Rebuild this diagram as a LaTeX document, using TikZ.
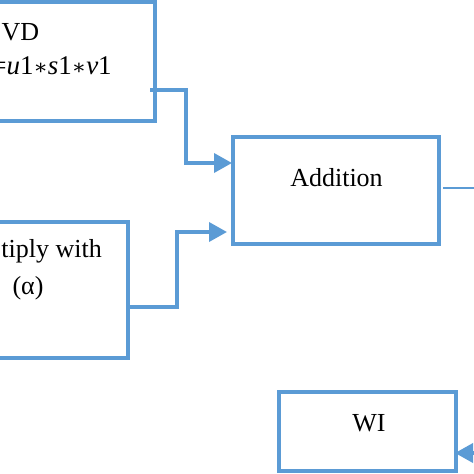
\documentclass[tikz,border=0pt]{standalone}
\usepackage{fontspec}
\setmainfont{Liberation Serif}
\newfontfamily\starfont{DejaVu Serif}
\usetikzlibrary{arrows.meta}
\definecolor{lineblue}{RGB}{91,155,213}
\tikzset{
  box/.style={draw=lineblue, line width=3.8pt, rectangle, inner sep=0pt, outer sep=0pt, anchor=north west},
  conn/.style={draw=lineblue, line width=3.6pt, -{Triangle[length=18pt,width=19pt]}},
  thinconn/.style={draw=lineblue, line width=2.6pt},
  lbl/.style={font=\fontsize{26}{30}\selectfont, inner sep=0pt, text=black}
}
\newcommand{\mstar}{{\starfont\fontsize{21}{26}\selectfont ∗}}
\begin{document}
\begin{tikzpicture}[x=1pt,y=-1pt]
\useasboundingbox (0,0) rectangle (474,474);
\fill[white] (0,0) rectangle (474,474);
\clip (0,0) rectangle (474,474);
% boxes
\node[box, minimum width=175pt, minimum height=119pt] (svd) at (-20,2) {};
\node[box, minimum width=206pt, minimum height=107pt] (add) at (233,137) {};
\node[box, minimum width=148pt, minimum height=136pt] (mul) at (-20,222) {};
\node[box, minimum width=177pt, minimum height=79pt] (wi) at (279,392) {};
% texts
\node[lbl, anchor=base west] (svdt) at (1.5,40) {VD};
\node[lbl, anchor=base west, font=\fontsize{27}{32}\selectfont] (svdf) at (6.5,74) {\llap{=}\itshape u\upshape 1\mstar\itshape s\upshape 1\mstar\itshape v\upshape 1};
\node[lbl, anchor=base] (addt) at (336.5,186) {Addition};
\node[lbl, anchor=base east] (mult) at (102,257) {tiply with};
\node[lbl, anchor=base] (mula) at (28,294) {(α)};
\node[lbl, anchor=base] (wit) at (369,431) {WI};
% connectors
\coordinate (out) at (480,188);
\coordinate (win) at (480,453);
\draw[conn] ([xshift=-5pt,yshift=-28.5pt]svd.east) -- ++(36,0) |- ([xshift=-1pt,yshift=27.5pt]add.west);
\draw[conn] ([yshift=-17pt]mul.east) -- ++(49,0) |- ([xshift=-6pt,yshift=-41.5pt]add.west);
\draw[thinconn] ([xshift=4pt,yshift=2.5pt]add.east) -- (out);
\draw[conn] (win) -- ([xshift=-1pt,yshift=-21.5pt]wi.east);
\end{tikzpicture}
\end{document}
